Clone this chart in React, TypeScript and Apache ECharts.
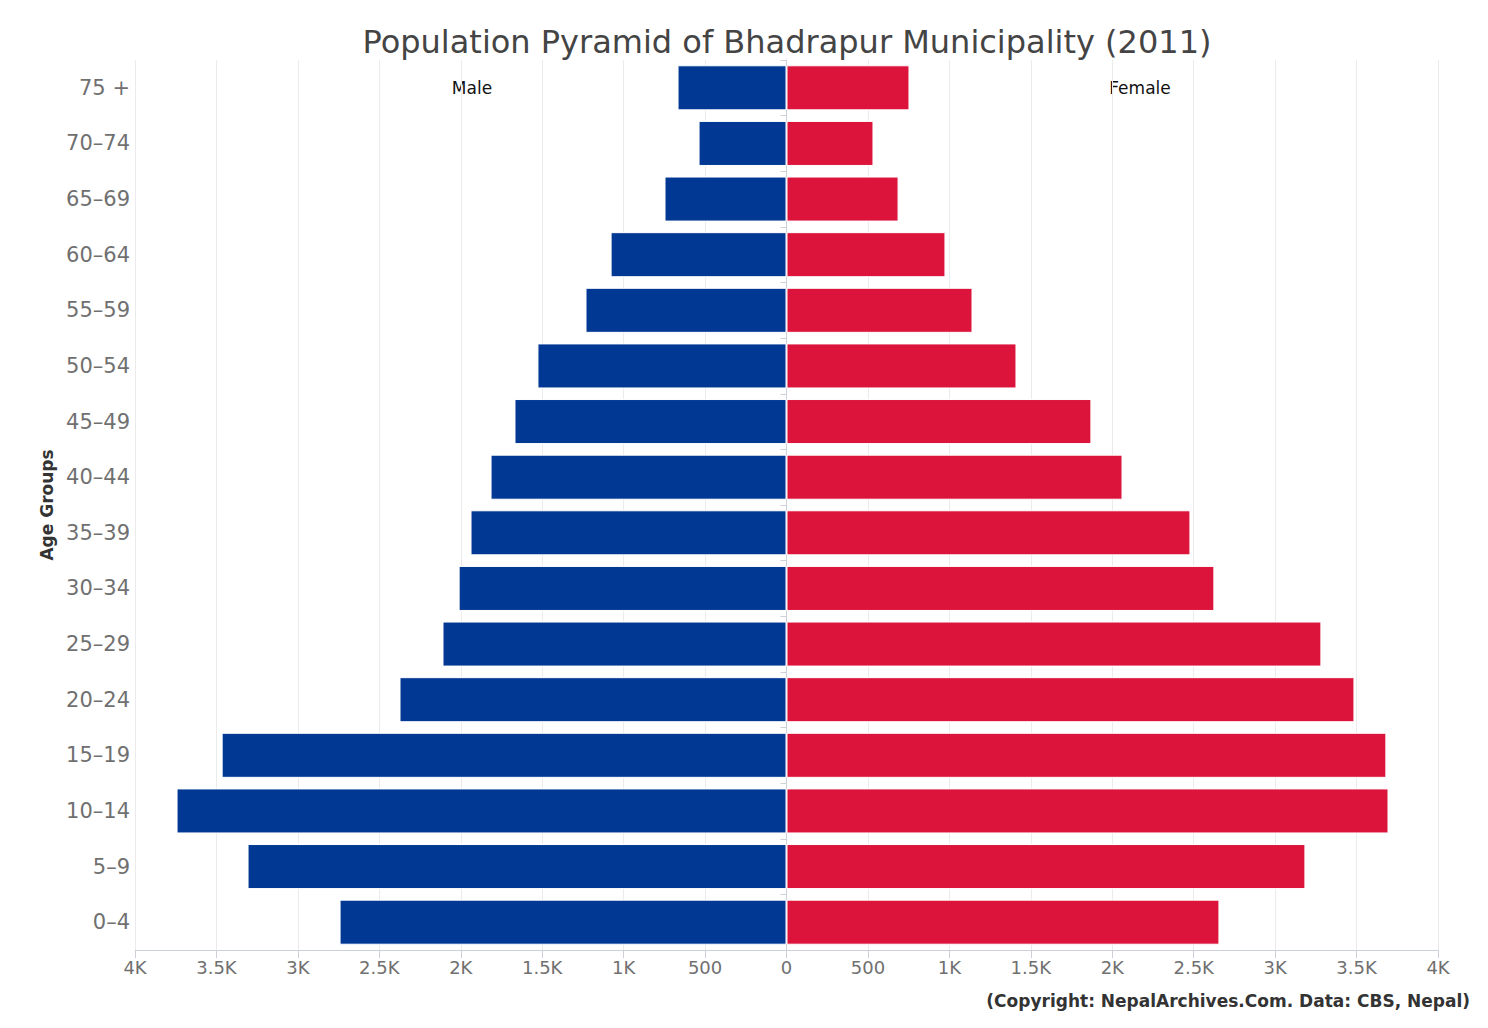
import React, { useEffect, useRef } from 'react'
import * as echarts from 'echarts';

// age groups, bottom to top
const ageGroups = ['0–4', '5–9', '10–14', '15–19', '20–24', '25–29', '30–34', '35–39', '40–44', '45–49', '50–54', '55–59', '60–64', '65–69', '70–74', '75 +'];
const maleValues = [2744, 3309, 3745, 3468, 2376, 2112, 2013, 1940, 1817, 1670, 1529, 1234, 1080, 749, 540, 669];
const femaleValues = [2658, 3186, 3696, 3683, 3487, 3284, 2627, 2480, 2063, 1872, 1412, 1142, 976, 688, 534, 755];

const FONT = '"DejaVu Sans", Verdana, sans-serif';

const fmtTick = (v: number) => {
  const a = Math.abs(v);
  if (a === 0) return '0';
  if (a < 1000) return String(a);
  return a / 1000 + 'K';
};

const App = function () {
  const chartDom = useRef<HTMLDivElement>(null);

  useEffect(() => {
    document.body.style.margin = '0';
    const chart = echarts.init(chartDom.current!, null, { renderer: 'svg' });
    chart.setOption({
      animation: false,
      backgroundColor: '#ffffff',
      textStyle: { fontFamily: FONT },
      grid: { left: 135, right: 50, top: 60, bottom: 78 },
      xAxis: {
        type: 'value',
        min: -4000,
        max: 4000,
        interval: 500,
        axisLine: { show: true, lineStyle: { color: '#ccd0d8', width: 1 } },
        axisTick: { show: true, length: 8, lineStyle: { color: '#ccd0d8' } },
        splitLine: { show: true, lineStyle: { color: '#ebebeb', width: 1 } },
        axisLabel: { color: '#707070', fontSize: 18, margin: 8, formatter: fmtTick, fontFamily: FONT },
      },
      yAxis: {
        type: 'category',
        data: ageGroups,
        name: 'Age Groups',
        nameLocation: 'middle',
        nameGap: 80,
        nameRotate: 90,
        nameTextStyle: { color: '#333', fontSize: 17, fontWeight: 'bold', fontFamily: FONT },
        axisLine: { show: true, lineStyle: { color: '#ccd0d8' } },
        axisTick: { show: true, length: 6, alignWithLabel: false, lineStyle: { color: '#ccd0d8' } },
        splitLine: { show: false },
        axisLabel: { color: '#707070', fontSize: 21, margin: 5, fontFamily: FONT },
      },
      series: [
        {
          name: 'Male',
          type: 'bar',
          stack: 'pop',
          data: maleValues.map((v) => -v),
          barCategoryGap: '19%',
          itemStyle: { color: '#003893', borderColor: '#ffffff', borderWidth: 1 },
        },
        {
          name: 'Female',
          type: 'bar',
          stack: 'pop',
          data: femaleValues,
          barCategoryGap: '19%',
          itemStyle: { color: '#DC143C', borderColor: '#ffffff', borderWidth: 1 },
        },
      ],
      graphic: [
        {
          type: 'text',
          x: 787,
          y: 42,
          style: {
            text: 'Population Pyramid of Bhadrapur Municipality (2011)',
            fill: '#444',
            fontSize: 32,
            fontFamily: FONT,
            align: 'center',
            verticalAlign: 'middle',
          },
        },
        {
          type: 'text',
          x: 472,
          y: 88,
          style: { text: 'Male', fill: '#111', fontSize: 17, fontFamily: FONT, align: 'center', verticalAlign: 'middle' },
        },
        {
          type: 'text',
          x: 1140,
          y: 88,
          style: { text: 'Female', fill: '#111', fontSize: 17, fontFamily: FONT, align: 'center', verticalAlign: 'middle' },
        },
        {
          type: 'text',
          x: 1470,
          y: 1001,
          style: {
            text: '(Copyright: NepalArchives.Com. Data: CBS, Nepal)',
            fill: '#333',
            fontSize: 17,
            fontWeight: 'bold',
            fontFamily: FONT,
            align: 'right',
            verticalAlign: 'middle',
          },
        },
      ],
    });

    return () => {
      chart.dispose();
    };
  }, []);

  return <div ref={chartDom} style={{ width: 1488, height: 1028 }} />;
}

export default App
